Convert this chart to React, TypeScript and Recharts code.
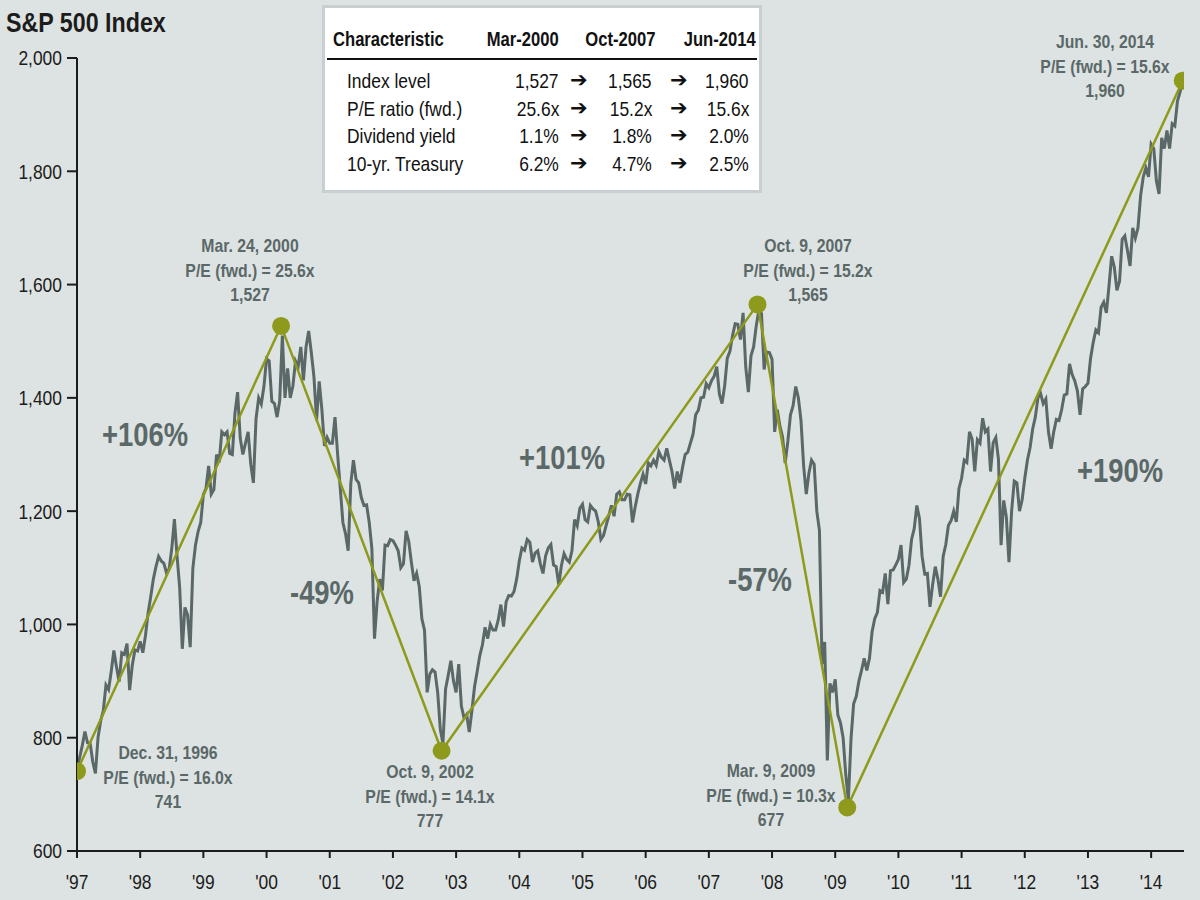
import React from 'react';
import { LineChart, Line, XAxis, YAxis } from 'recharts';

// S&P 500, two readings per month (mid-month, month-end)
const start1996 = 741;
const y1997 = [765, 786, 811, 791, 790, 757, 737, 801, 830, 848, 893, 885, 917, 954, 925, 899, 950, 947, 966, 884, 928, 955, 953, 970];
const y1998 = [950, 980, 1020, 1049, 1080, 1102, 1120, 1112, 1108, 1091, 1098, 1134, 1186, 1121, 1065, 957, 1030, 1017, 960, 1099, 1140, 1164, 1180, 1229];
const y1999 = [1240, 1280, 1230, 1238, 1300, 1286, 1340, 1335, 1340, 1302, 1300, 1373, 1410, 1329, 1300, 1320, 1340, 1283, 1250, 1363, 1400, 1389, 1420, 1469];
const y2000 = [1465, 1394, 1390, 1366, 1395, 1510, 1400, 1452, 1400, 1421, 1465, 1455, 1490, 1431, 1490, 1518, 1480, 1437, 1360, 1429, 1380, 1315, 1330, 1320];
const y2001 = [1320, 1366, 1300, 1240, 1180, 1160, 1130, 1249, 1290, 1256, 1250, 1224, 1210, 1211, 1180, 1134, 975, 1041, 1080, 1060, 1140, 1139, 1150, 1148];
const y2002 = [1140, 1130, 1100, 1107, 1165, 1147, 1110, 1077, 1090, 1067, 1010, 990, 880, 912, 920, 916, 880, 815, 790, 886, 910, 936, 900, 880];
const y2003 = [930, 856, 835, 841, 810, 848, 890, 917, 945, 964, 995, 975, 1000, 990, 990, 1008, 1035, 996, 1040, 1051, 1050, 1058, 1080, 1112];
const y2004 = [1135, 1131, 1150, 1145, 1110, 1126, 1130, 1107, 1090, 1121, 1135, 1141, 1105, 1102, 1070, 1104, 1125, 1115, 1110, 1130, 1185, 1174, 1205, 1212];
const y2005 = [1185, 1181, 1210, 1204, 1200, 1181, 1150, 1157, 1175, 1192, 1210, 1191, 1230, 1234, 1220, 1220, 1230, 1229, 1180, 1207, 1230, 1249, 1265, 1248];
const y2006 = [1285, 1280, 1290, 1281, 1305, 1295, 1290, 1311, 1290, 1270, 1240, 1270, 1250, 1277, 1300, 1304, 1320, 1336, 1370, 1378, 1400, 1401, 1425, 1418];
const y2007 = [1430, 1438, 1455, 1407, 1390, 1421, 1470, 1482, 1510, 1531, 1530, 1503, 1550, 1455, 1410, 1474, 1490, 1527, 1555, 1549, 1450, 1481, 1480, 1468];
const y2008 = [1340, 1379, 1350, 1331, 1285, 1323, 1370, 1386, 1420, 1400, 1360, 1280, 1230, 1267, 1290, 1283, 1200, 1166, 930, 969, 760, 896, 880, 903];
const y2009 = [840, 826, 800, 735, 690, 798, 860, 873, 900, 919, 940, 919, 940, 987, 1010, 1021, 1060, 1057, 1090, 1036, 1095, 1096, 1105, 1115];
const y2010 = [1140, 1074, 1080, 1104, 1150, 1169, 1210, 1187, 1120, 1089, 1090, 1031, 1070, 1102, 1080, 1049, 1120, 1141, 1175, 1183, 1200, 1181, 1240, 1258];
const y2011 = [1290, 1286, 1340, 1327, 1270, 1326, 1320, 1364, 1340, 1345, 1270, 1321, 1330, 1292, 1140, 1219, 1190, 1110, 1200, 1253, 1250, 1200, 1220, 1258];
const y2012 = [1290, 1312, 1345, 1366, 1400, 1408, 1390, 1398, 1340, 1310, 1340, 1362, 1360, 1379, 1405, 1407, 1460, 1441, 1430, 1412, 1370, 1416, 1420, 1426];
const y2013 = [1470, 1498, 1520, 1515, 1560, 1569, 1550, 1598, 1650, 1631, 1590, 1606, 1680, 1686, 1660, 1633, 1700, 1682, 1700, 1757, 1790, 1806, 1790, 1848];
const y2014 = [1840, 1783, 1760, 1859, 1840, 1872, 1840, 1884, 1880, 1924, 1940, 1960];
const years = [y1997, y1998, y1999, y2000, y2001, y2002, y2003, y2004, y2005, y2006, y2007, y2008, y2009, y2010, y2011, y2012, y2013, y2014];

// turning points joined by the trend line
const pivotDates = [1997.0, 2000.23, 2002.77, 2007.77, 2009.19, 2014.5];
const pivotValues = [741, 1527, 777, 1565, 677, 1960];

const yearTicks = [1997, 1998, 1999, 2000, 2001, 2002, 2003, 2004, 2005, 2006, 2007, 2008, 2009, 2010, 2011, 2012, 2013, 2014];
const indexTicks = [600, 800, 1000, 1200, 1400, 1600, 1800, 2000];

const tableHeads = ['Characteristic', 'Mar-2000', 'Oct-2007', 'Jun-2014'];
const tableRows = [
  ['Index level', '1,527', '1,565', '1,960'],
  ['P/E ratio (fwd.)', '25.6x', '15.2x', '15.6x'],
  ['Dividend yield', '1.1%', '1.8%', '2.0%'],
  ['10-yr. Treasury', '6.2%', '4.7%', '2.5%'],
];

const pivotNotes = [
  ['Dec. 31, 1996', 'P/E (fwd.) = 16.0x', '741'],
  ['Mar. 24, 2000', 'P/E (fwd.) = 25.6x', '1,527'],
  ['Oct. 9, 2002', 'P/E (fwd.) = 14.1x', '777'],
  ['Oct. 9, 2007', 'P/E (fwd.) = 15.2x', '1,565'],
  ['Mar. 9, 2009', 'P/E (fwd.) = 10.3x', '677'],
  ['Jun. 30, 2014', 'P/E (fwd.) = 15.6x', '1,960'],
];
const moves = ['+106%', '-49%', '+101%', '-57%', '+190%'];

// layout only
const notePos = [[168, 753], [250, 246], [430, 772], [808, 246], [771, 771], [1105, 42]];
const movePos = [[145, 435], [322, 593], [562, 458], [760, 580], [1120, 471]];
const headRight = [0, 559, 655, 756];
const colRight = [0, 559, 652, 749];
const arrowX = [579, 679];

const FONT = '"Liberation Sans", Arial, sans-serif';
const SQ = 0.83; // no condensed face installed, squeeze the regular one
const BG = '#dde3e2';
const GRAY = '#5b6868';
const OLIVE = '#8d9a1b';
const INK = '#1c1c1c';

const priceData = [{ x: 1997, v: start1996 }];
years.forEach((vals, yi) => {
  vals.forEach((v, i) => priceData.push({ x: 1997 + yi + (i + 1) / 24, v }));
});
const trendData = pivotDates.map((x, i) => ({ x, v: pivotValues[i] }));

const fmt = (n: number) => n.toLocaleString('en-US');

const XTick = (props: any) => {
  const { x, y, payload } = props;
  return (
    <g transform={`translate(${x},${y}) scale(${SQ},1)`}>
      <text textAnchor="middle" dy="0.71em" fontSize={21} fill={INK} fontFamily={FONT}>
        {"'" + String(payload.value).slice(2)}
      </text>
    </g>
  );
};

const YTick = (props: any) => {
  const { x, y, payload } = props;
  return (
    <g transform={`translate(${x},${y}) scale(${SQ},1)`}>
      <text textAnchor="end" dy="0.355em" fontSize={21} fill={INK} fontFamily={FONT}>
        {fmt(payload.value)}
      </text>
    </g>
  );
};

const squeeze = (origin: string): React.CSSProperties => ({ transform: `scaleX(${SQ})`, transformOrigin: origin });

export default function App() {
  return (
    <div style={{ position: 'absolute', left: 0, top: 0, width: 1200, height: 900, background: BG, fontFamily: FONT, overflow: 'hidden' }}>
      <LineChart width={1200} height={900} margin={{ top: 58, right: 16, bottom: 0, left: 0 }}>
        <XAxis
          type="number"
          dataKey="x"
          domain={[1997, 2014.52]}
          ticks={yearTicks}
          allowDataOverflow
          tickSize={7}
          tickMargin={16}
          height={49}
          axisLine={{ stroke: INK, strokeWidth: 2 }}
          tickLine={{ stroke: INK, strokeWidth: 2 }}
          tick={<XTick />}
        />
        <YAxis
          type="number"
          domain={[600, 2000]}
          ticks={indexTicks}
          width={77}
          tickSize={10}
          tickMargin={5}
          axisLine={{ stroke: INK, strokeWidth: 2 }}
          tickLine={{ stroke: INK, strokeWidth: 2 }}
          tick={<YTick />}
        />
        <Line data={priceData} dataKey="v" type="linear" stroke={GRAY} strokeWidth={3} dot={false} isAnimationActive={false} />
        <Line
          data={trendData}
          dataKey="v"
          type="linear"
          stroke={OLIVE}
          strokeWidth={2.5}
          dot={{ r: 9, fill: OLIVE, stroke: 'none' }}
          isAnimationActive={false}
        />
      </LineChart>

      <div style={{ position: 'absolute', left: 6, top: 7, fontSize: 28, fontWeight: 'bold', color: INK, whiteSpace: 'nowrap', ...squeeze('left center') }}>
        S&amp;P 500 Index
      </div>

      <div style={{ position: 'absolute', left: 322, top: 5, width: 434, height: 182, background: '#fff', border: '3px solid #c9cfd1' }} />
      <div style={{ position: 'absolute', left: 327, top: 58, width: 430, height: 2, background: '#111' }} />
      {tableHeads.map((h, i) => (
        <div key={h} style={{
          position: 'absolute', top: 28, fontSize: 20, fontWeight: 'bold', color: '#111', whiteSpace: 'nowrap',
          ...(i === 0 ? { left: 333, ...squeeze('left center') } : { right: 1200 - headRight[i], ...squeeze('right center') }),
        }}>{h}</div>
      ))}
      {tableRows.map((row, r) => (
        <React.Fragment key={row[0]}>
          {row.map((c, i) => (
            <div key={i} style={{
              position: 'absolute', top: 69 + r * 27.5, fontSize: 21, color: '#111', whiteSpace: 'nowrap',
              ...(i === 0 ? { left: 347, ...squeeze('left center') } : { right: 1200 - colRight[i], ...squeeze('right center') }),
            }}>{c}</div>
          ))}
          {arrowX.map((ax) => (
            <div key={ax} style={{ position: 'absolute', left: ax - 9, top: 68 + r * 27.5, fontSize: 21, fontWeight: 'bold', color: '#111', fontFamily: '"DejaVu Sans"' }}>➔</div>
          ))}
        </React.Fragment>
      ))}

      {pivotNotes.map((lines, i) => (
        <div key={lines[0]} style={{
          position: 'absolute', left: notePos[i][0] - 100, top: notePos[i][1] - 12, width: 200, textAlign: 'center',
          fontSize: 19, fontWeight: 'bold', color: GRAY, lineHeight: '24.5px', ...squeeze('center center'),
        }}>
          {lines.map((l) => <div key={l}>{l}</div>)}
        </div>
      ))}
      {moves.map((m, i) => (
        <div key={m} style={{
          position: 'absolute', left: movePos[i][0] - 80, top: movePos[i][1] - 19, width: 160, textAlign: 'center',
          fontSize: 33, fontWeight: 'bold', color: GRAY, lineHeight: '38px', ...squeeze('center center'),
        }}>{m}</div>
      ))}
    </div>
  );
}
